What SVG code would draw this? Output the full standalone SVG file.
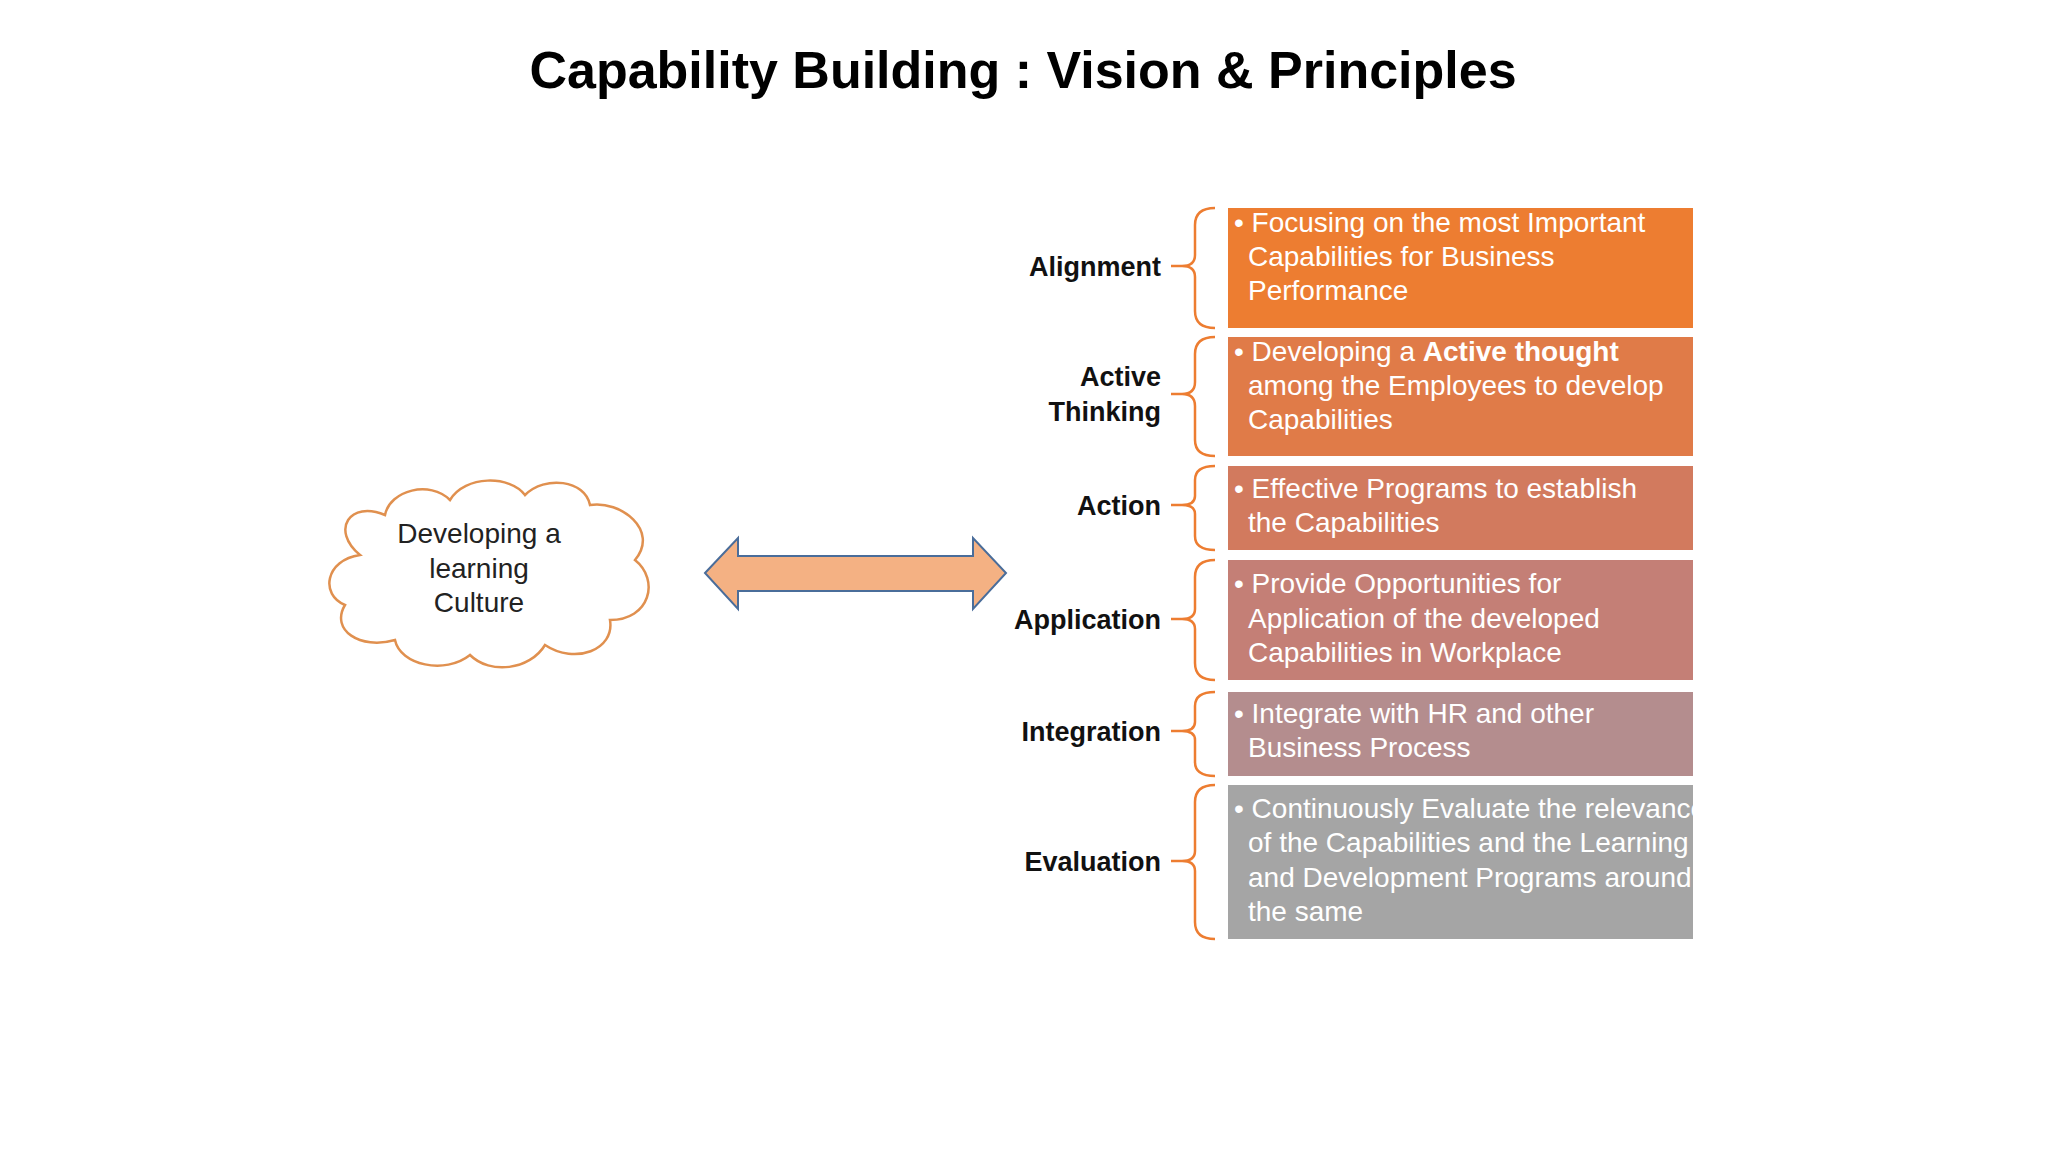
<svg xmlns="http://www.w3.org/2000/svg" width="2048" height="1152" viewBox="0 0 2048 1152">
<style>
.t{font-family:"Liberation Sans",sans-serif;font-size:28px;fill:#fff}
.l{font-family:"Liberation Sans",sans-serif;font-size:27px;font-weight:bold;fill:#111;text-anchor:end}
.br{fill:none;stroke:#ED7D31;stroke-width:2.5}
</style>
<rect width="2048" height="1152" fill="#fff"/>
<text x="1023" y="88" font-family="Liberation Sans,sans-serif" font-size="52" font-weight="bold" text-anchor="middle" fill="#000">Capability Building : Vision &amp; Principles</text>
<g id="cloud">
<path d="M360,555 C330,530 350,500 385,515 C390,490 430,480 450,500 C465,475 510,475 525,495 C545,475 585,480 590,505 C620,500 660,530 635,560 C660,580 650,620 610,620 C615,650 575,665 545,645 C530,670 490,675 470,655 C445,675 400,665 395,640 C360,650 330,630 345,605 C320,595 325,560 360,555 Z" fill="#fff" stroke="#E0904F" stroke-width="2.5"/>
<text x="479" y="543" font-family="Liberation Sans,sans-serif" font-size="28" text-anchor="middle" fill="#222">Developing a</text>
<text x="479" y="578" font-family="Liberation Sans,sans-serif" font-size="28" text-anchor="middle" fill="#222">learning</text>
<text x="479" y="612" font-family="Liberation Sans,sans-serif" font-size="28" text-anchor="middle" fill="#222">Culture</text>
</g>
<g id="arrow">
<path d="M705,573 L738,538 L738,556 L973,556 L973,538 L1006,573 L973,609 L973,591 L738,591 L738,609 Z" fill="#F4B183" stroke="#4A6D9A" stroke-width="2"/>
</g>
<g id="connectors">
<path class="br" d="M1215,208 Q1195,208 1195,225 L1195,255 Q1195,266 1182,266 Q1195,266 1195,277 L1195,311 Q1195,328 1215,328 M1171,266 L1182,266"/>
<path class="br" d="M1215,337 Q1195,337 1195,354 L1195,382 Q1195,394 1182,394 Q1195,394 1195,406 L1195,440 Q1195,456 1215,456 M1171,394 L1182,394"/>
<path class="br" d="M1215,466 Q1195,466 1195,480 L1195,496 Q1195,505 1182,505 Q1195,505 1195,514 L1195,536 Q1195,550 1215,550 M1171,505 L1182,505"/>
<path class="br" d="M1215,560 Q1195,560 1195,577 L1195,609 Q1195,619 1182,619 Q1195,619 1195,629 L1195,663 Q1195,680 1215,680 M1171,619 L1182,619"/>
<path class="br" d="M1215,692 Q1195,692 1195,706 L1195,722 Q1195,731 1182,731 Q1195,731 1195,740 L1195,762 Q1195,776 1215,776 M1171,731 L1182,731"/>
<path class="br" d="M1215,785 Q1195,785 1195,802 L1195,851 Q1195,861 1182,861 Q1195,861 1195,871 L1195,922 Q1195,939 1215,939 M1171,861 L1182,861"/>
</g>
<g id="n1"><rect x="1228" y="208" width="465" height="120" fill="#ED7D31"/>
<text class="t" x="1234" y="232">• Focusing on the most Important</text><text class="t" x="1248" y="266">Capabilities for Business</text><text class="t" x="1248" y="300">Performance</text>
<text class="l" x="1161" y="276">Alignment</text></g>
<g id="n2"><rect x="1228" y="337" width="465" height="119" fill="#E07B48"/>
<text class="t" x="1234" y="361">• Developing a  <tspan font-weight="bold">Active thought</tspan></text><text class="t" x="1248" y="395">among the Employees to develop</text><text class="t" x="1248" y="429">Capabilities</text>
<text class="l" x="1161" y="386">Active</text><text class="l" x="1161" y="421">Thinking</text></g>
<g id="n3"><rect x="1228" y="466" width="465" height="84" fill="#D27A5E"/>
<text class="t" x="1234" y="498">• Effective Programs to establish</text><text class="t" x="1248" y="532">the Capabilities</text>
<text class="l" x="1161" y="515">Action</text></g>
<g id="n4"><rect x="1228" y="560" width="465" height="120" fill="#C47F76"/>
<text class="t" x="1234" y="593">• Provide Opportunities for</text><text class="t" x="1248" y="628">Application of the developed</text><text class="t" x="1248" y="662">Capabilities in Workplace</text>
<text class="l" x="1161" y="629">Application</text></g>
<g id="n5"><rect x="1228" y="692" width="465" height="84" fill="#B48D8E"/>
<text class="t" x="1234" y="723">• Integrate with HR and other</text><text class="t" x="1248" y="757">Business Process</text>
<text class="l" x="1161" y="741">Integration</text></g>
<g id="n6"><rect x="1228" y="785" width="465" height="154" fill="#A5A5A5"/>
<text class="t" x="1234" y="818">• Continuously Evaluate the relevance</text><text class="t" x="1248" y="852">of the Capabilities and the Learning</text><text class="t" x="1248" y="887">and Development Programs around</text><text class="t" x="1248" y="921">the same</text>
<text class="l" x="1161" y="871">Evaluation</text></g>
</svg>
